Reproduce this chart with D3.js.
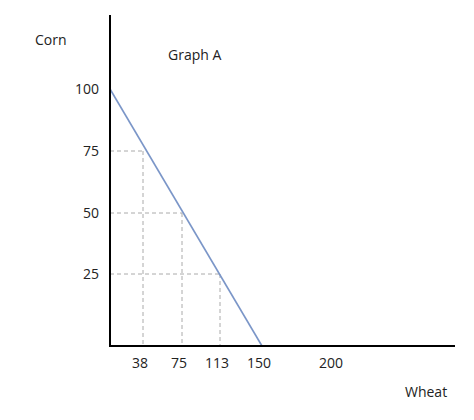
<!DOCTYPE html>
<html><head><meta charset="utf-8">
<script src="https://cdn.jsdelivr.net/npm/d3@7"></script>
<style>body{margin:0;background:#fff}text{font-family:"Open Sans",sans-serif;font-size:14px;fill:#222}</style>
</head><body>
<script>
const xTicks=[38,75,113,150,200];
const yTicks=[25,50,75,100];
const ppfWheat=[0,150];
const ppfCorn=[100,0];
const guides=[[38,75],[75,50],[113,25]];

const svg=d3.select("body").append("svg").attr("width",474).attr("height",420);
const x=d3.scaleLinear().domain([0,38,75,113,150,200]).range([110,143,182,220,262,334]);
const y=d3.scaleLinear().domain([0,25,50,75,100]).range([346,274,213,151,89]);

guides.forEach(([w,c])=>{
  svg.append("line").attr("x1",x(0)).attr("x2",x(w)).attr("y1",y(c)).attr("y2",y(c))
    .attr("stroke","#aaa").attr("stroke-dasharray","4,3");
  svg.append("line").attr("x1",x(w)).attr("x2",x(w)).attr("y1",y(c)).attr("y2",y(0))
    .attr("stroke","#aaa").attr("stroke-dasharray","4,3");
});
svg.append("path").datum(ppfWheat.map((w,i)=>[w,ppfCorn[i]]))
  .attr("d",d3.line().x(d=>x(d[0])).y(d=>y(d[1])))
  .attr("stroke","#7b96c8").attr("stroke-width",1.6).attr("fill","none");

svg.append("line").attr("x1",110).attr("x2",110).attr("y1",15).attr("y2",347).attr("stroke","#000").attr("stroke-width",2);
svg.append("line").attr("x1",109).attr("x2",455).attr("y1",346).attr("y2",346).attr("stroke","#000").attr("stroke-width",2);

svg.selectAll(".xt").data(xTicks).enter().append("text").attr("x",d=>x(d)-3).attr("y",368).attr("text-anchor","middle").text(d=>d);
svg.selectAll(".yt").data(yTicks).enter().append("text").attr("x",99).attr("y",d=>y(d)+5).attr("text-anchor","end").text(d=>d);
svg.append("text").attr("x",35).attr("y",45).text("Corn");
svg.append("text").attr("x",405).attr("y",397).text("Wheat");
svg.append("text").attr("x",168).attr("y",60).text("Graph A");
</script>
</body></html>
